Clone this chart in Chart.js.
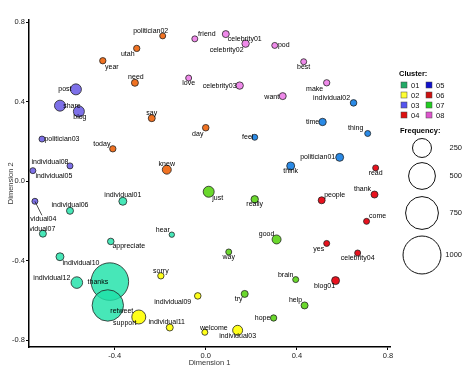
<!DOCTYPE html>
<html>
<head>
<meta charset="utf-8">
<script src="https://cdn.jsdelivr.net/npm/chart.js@4.4.1/dist/chart.umd.min.js"></script>
<style>
  html, body { margin: 0; padding: 0; background: #fff; }
  #wrap { width: 474px; height: 369px; }
</style>
</head>
<body>
<div id="wrap"><canvas id="mds" width="474" height="369"></canvas></div>
<script>
// words of the MDS map, grouped by cluster
var words = [
  'individual01','individual06','individual07','appreciate','hear','individual10','individual12','thanks','retweet',
  'sorry','individual09','support','individual11','welcome','individual03',
  'post','share','blog','politician03','individual08','individual05','individual04',
  'politician02','utah','year','need','say','today','day','knew',
  'individual02','time','thing','feel','think','politician01',
  'read','thank','people','come','yes','celebrity04','blog01',
  'just','really','good','way','brain','try','help','hope',
  'friend','celebrity01','celebrity02','pod','best','love','celebrity03','make','want'
]
var cluster = [
  1,1,1,1,1,1,1,1,1,
  2,2,2,2,2,2,
  3,3,3,3,3,3,3,
  4,4,4,4,4,4,4,4,
  5,5,5,5,5,5,
  6,6,6,6,6,6,6,
  7,7,7,7,7,7,7,7,
  8,8,8,8,8,8,8,8,8
]
var dim1 = [
  -0.364,-0.596,-0.715,-0.417,-0.149,-0.640,-0.566,-0.421,-0.430,
  -0.197,-0.035,-0.294,-0.158,-0.004,0.140,
  -0.570,-0.640,-0.557,-0.719,-0.596,-0.759,-0.750,
  -0.189,-0.303,-0.452,-0.311,-0.237,-0.408,0.000,-0.171,
  0.649,0.513,0.711,0.215,0.373,0.588,
  0.746,0.741,0.509,0.706,0.531,0.667,0.570,
  0.013,0.215,0.311,0.101,0.395,0.171,0.434,0.298,
  -0.048,0.088,0.175,0.303,0.430,-0.075,0.149,0.531,0.338
]
var dim2 = [
  -0.101,-0.149,-0.264,-0.303,-0.269,-0.380,-0.510,-0.505,-0.625,
  -0.476,-0.577,-0.683,-0.736,-0.760,-0.750,
  0.462,0.380,0.351,0.212,0.077,0.053,-0.101,
  0.731,0.668,0.606,0.495,0.317,0.163,0.269,0.058,
  0.394,0.298,0.240,0.221,0.077,0.120,
  0.067,-0.067,-0.096,-0.202,-0.313,-0.361,-0.500,
  -0.053,-0.091,-0.293,-0.356,-0.495,-0.567,-0.625,-0.688,
  0.716,0.740,0.692,0.683,0.601,0.519,0.481,0.495,0.428
]
var freq = [
  44,34,34,30,20,44,93,980,685,
  28,30,136,34,25,69,
  84,84,84,25,25,25,25,
  25,28,28,34,34,28,30,56,
  30,38,25,25,44,44,
  25,34,34,25,25,25,44,
  84,38,56,25,25,34,34,28,
  25,34,38,25,25,25,38,28,34
]
var clusterNames = ['01','02','03','04','05','06','07','08']
var freqLegend = [250, 500, 750, 1000]
var xTicks = [-0.4, 0.0, 0.4, 0.8]
var yTicks = [-0.8, -0.4, 0.0, 0.4, 0.8]

/* styles */
var pointColors = ['rgba(30,226,168,0.82)','rgba(255,255,0,0.9)','#7d70e8','#f07222',
                   '#2a8ae6','#e8121e','#6ad82c','#ef8aea']
var legendColors = ['#22aa66','#ffff33','#5555ee','#dd1111','#1111cc','#cc1111','#22cc22','#dd55cc']
var fam = '"Liberation Sans", Arial, sans-serif'

// label offsets from the bubble centre (px)
var labelOff = {
  individual01:[0,-6], individual06:[0,-6], individual07:[-6,-5], appreciate:[18,5], hear:[-9,-5],
  individual10:[21,6], individual12:[-25,-5], thanks:[-12,0], retweet:[14,6],
  sorry:[0,-5], individual09:[-25,6], support:[-14,6], individual11:[-3,-5], welcome:[9,-4], individual03:[0,6],
  post:[-11,0], share:[12,0], blog:[1,6], politician03:[20,0], individual08:[-20,-4], individual05:[21,5], individual04:[3,18],
  politician02:[-12,-5], utah:[-9,6], year:[9,6], need:[1,-6], say:[0,-5], today:[-11,-5], day:[-8,6], knew:[0,-6],
  individual02:[-22,-5], time:[-10,0], thing:[-12,-5], feel:[-7,0], think:[0,5], politician01:[-22,0],
  read:[0,5], thank:[-12,-5], people:[13,-5], come:[11,-5], yes:[-8,6], celebrity04:[0,5], blog01:[-11,5],
  just:[9,6], really:[0,5], good:[-10,-5], way:[0,5], brain:[-10,-5], try:[-6,5], help:[-9,-5], hope:[-11,0],
  friend:[12,-5], celebrity01:[19,5], celebrity02:[-19,6], pod:[9,0], best:[0,5], love:[0,5],
  celebrity03:[-20,0], make:[-12,6], want:[-11,1]
}

function bubbleR(f){ return 0.6 * Math.sqrt(f) }

/* build one dataset per cluster */
var datasets = clusterNames.map(function(name, c){
  var pts = []
  for (var i = 0; i < words.length; i++){
    if (cluster[i] === c + 1){
      pts.push({x: dim1[i], y: dim2[i], r: bubbleR(freq[i]), word: words[i]})
    }
  }
  return {
    label: name,
    data: pts,
    backgroundColor: pointColors[c],
    borderColor: '#222',
    borderWidth: 0.8,
    hoverRadius: 0
  }
})

/* word labels, clipped to the plot area */
var wordLabels = {
  id: 'wordLabels',
  afterDatasetsDraw: function(chart){
    var ctx = chart.ctx, a = chart.chartArea
    ctx.save()
    ctx.beginPath()
    ctx.rect(a.left + 1, a.top, a.right - a.left, a.bottom - a.top)
    ctx.clip()
    ctx.font = '7px ' + fam
    ctx.fillStyle = '#000'
    ctx.textAlign = 'center'
    ctx.textBaseline = 'middle'
    chart.data.datasets.forEach(function(ds, di){
      var meta = chart.getDatasetMeta(di)
      ds.data.forEach(function(p, j){
        var el = meta.data[j]
        var off = labelOff[p.word] || [0, 0]
        var lx = el.x + off[0], ly = el.y + off[1]
        if (Math.abs(off[1]) > 12){
          ctx.strokeStyle = '#222'
          ctx.lineWidth = 0.8
          ctx.beginPath()
          ctx.moveTo(el.x, el.y)
          ctx.lineTo(lx + 4, ly - 4)
          ctx.stroke()
        }
        ctx.fillText(p.word, lx, ly)
      })
    })
    ctx.restore()
  }
}

/* cluster + frequency legend on the right */
var sideLegend = {
  id: 'sideLegend',
  afterDraw: function(chart){
    var ctx = chart.ctx
    ctx.save()
    ctx.textBaseline = 'middle'
    ctx.textAlign = 'left'
    ctx.fillStyle = '#000'
    ctx.font = 'bold 7.5px ' + fam
    ctx.fillText('Cluster:', 399, 74)
    ctx.font = '7.5px ' + fam
    clusterNames.forEach(function(n, k){
      var col = Math.floor(k / 4), row = k % 4
      var sx = 401 + col * 25, sy = 82 + row * 10
      ctx.fillStyle = legendColors[k]
      ctx.fillRect(sx, sy, 6, 6)
      ctx.strokeStyle = '#444'
      ctx.lineWidth = 0.5
      ctx.strokeRect(sx, sy, 6, 6)
      ctx.fillStyle = '#111'
      ctx.fillText(n, sx + 10, sy + 3.5)
    })
    ctx.font = 'bold 7.5px ' + fam
    ctx.fillStyle = '#000'
    ctx.fillText('Frequency:', 400, 131)
    var cy = [148, 176, 213, 255]
    ctx.font = '7.5px ' + fam
    freqLegend.forEach(function(f, k){
      ctx.beginPath()
      ctx.arc(422, cy[k], bubbleR(f), 0, Math.PI * 2)
      ctx.strokeStyle = '#111'
      ctx.lineWidth = 1
      ctx.stroke()
      ctx.textAlign = 'right'
      ctx.fillStyle = '#111'
      ctx.fillText(String(f), 462, cy[k])
    })
    ctx.restore()
  }
}

var tickFont = {family: fam, size: 7.5}

new Chart(document.getElementById('mds'), {
  type: 'bubble',
  data: {datasets: datasets},
  options: {
    responsive: false,
    animation: false,
    devicePixelRatio: 1,
    layout: {padding: {left: 0, right: 84, top: 4, bottom: 0}},
    plugins: {legend: {display: false}, tooltip: {enabled: false}},
    events: [],
    scales: {
      x: {
        type: 'linear',
        min: -0.776, max: 0.809,
        afterBuildTicks: function(s){ s.ticks = xTicks.map(function(v){ return {value: v} }) },
        afterFit: function(s){ s.height = 22 },
        ticks: {font: tickFont, color: '#222', padding: 1, maxRotation: 0,
                callback: function(v){ return v.toFixed(1) }},
        grid: {drawOnChartArea: false, tickLength: 3, color: '#000', lineWidth: 1},
        border: {color: '#000', width: 1.5},
        title: {display: true, text: 'Dimension 1', font: {family: fam, size: 7.5},
                color: '#333', padding: {top: 0, bottom: 2}}
      },
      y: {
        type: 'linear',
        min: -0.834, max: 0.813,
        afterBuildTicks: function(s){ s.ticks = yTicks.map(function(v){ return {value: v} }) },
        afterFit: function(s){ s.width = 29 },
        ticks: {font: tickFont, color: '#222', padding: 1,
                callback: function(v){ return v.toFixed(1) }},
        grid: {drawOnChartArea: false, tickLength: 3, color: '#000', lineWidth: 1},
        border: {color: '#000', width: 1.5},
        title: {display: true, text: 'Dimension 2', font: {family: fam, size: 7.5},
                color: '#333', padding: {top: 6, bottom: 0}}
      }
    }
  },
  plugins: [wordLabels, sideLegend]
})
</script>
</body>
</html>
